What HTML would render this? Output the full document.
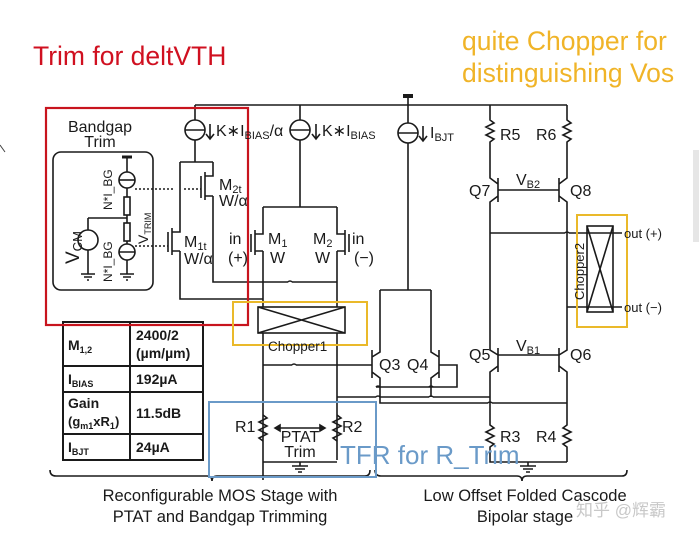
<!DOCTYPE html>
<html><head><meta charset="utf-8"><style>
html,body{margin:0;padding:0;background:#fff}
svg{display:block}
text{font-family:"Liberation Sans","Noto Sans CJK SC",sans-serif}
</style></head><body>
<svg width="699" height="536" viewBox="0 0 699 536" xmlns="http://www.w3.org/2000/svg">
<rect width="699" height="536" fill="#fff"/>
<rect x="693" y="150" width="6" height="92" fill="#e6e6e6"/>
<path d="M0 145 L5 152" stroke="#444" stroke-width="1"/>
<text x="33" y="65" font-size="26.5" fill="#d01020">Trim for deltVTH</text>
<text x="462" y="50" font-size="26.5" fill="#f0b428">quite Chopper for</text>
<text x="462" y="82" font-size="26.5" fill="#f0b428">distinguishing Vos</text>

<g stroke="#1a1a1a" stroke-width="1.6" fill="none">
<path d="M195 105 H567"/>
<path d="M403 96 H413" stroke-width="4"/>
<path d="M408 96 V105"/>
<path d="M195 105 V120 M195 140 V162 M180 162 H213"/>
<circle cx="195" cy="130" r="10"/><path d="M185 130 H205"/>
<path d="M300 105 V120 M300 140 V207 M263 207 H337"/>
<circle cx="300" cy="130" r="10"/><path d="M290 130 H310"/>
<path d="M408 105 V123 M408 143 V290 M380 290 H431"/>
<circle cx="408" cy="133" r="10"/><path d="M398 133 H418"/>
<path d="M213 162 V176 H205 M205 172 V200 M201 176 V198 M213 196 H205 M213 196 V282 H288 M292 282 H337"/>
<path d="M288 282 A2.5 2.5 0 0 1 292 282"/>
<path d="M180 162 V232 H172 M172 228 V255 M168 232 V252 M180 251 H172 M180 251 V299 H263"/>
<path d="M263 207 V234 H255 M255 230 V255 M251 234 V252 M263 251 H255 M263 251 V480"/>
<path d="M337 207 V234 H345 M345 230 V255 M349 234 V252 M337 251 H345 M337 251 V460"/>
<path d="M263 415 l4 3 l-8 4 l8 4 l-8 4 l8 4 l-8 4 l4 3"/>
<path d="M337 415 l4 3 l-8 4 l8 4 l-8 4 l8 4 l-8 4 l4 3"/>
<path d="M263 462 H337 M300 462 V466 M292 466 H308 M295 469 H305 M298 472 H302"/>
<path d="M275 428 H325"/>
<rect x="258" y="307" width="87" height="26" fill="#fff"/>
<path d="M258 307 L345 333 M258 333 L345 307"/>
<path d="M263 365 H292 M296 365 H368"/>
<path d="M292 365 A2.5 2.5 0 0 1 296 365"/>
<path d="M337 397 H376 M380 397 H429 M433 397 H490"/>
<path d="M380 290 V352 L372 357 M372 350 V378 M368 365 H372 M372 372 L380 378 V403 H488 M492 403 H567"/>
<path d="M431 290 V352 L439 357 M439 350 V378 M439 365 H457 V387 H376 M380 387 H429 M433 387 H431 M439 372 L431 378 V397"/>
<path d="M376 387 A2.5 2.5 0 0 1 380 387 M429 387 A2.5 2.5 0 0 1 433 387 M376 397 A2.5 2.5 0 0 1 380 397 M429 397 A2.5 2.5 0 0 1 433 397 M488 403 A2.5 2.5 0 0 1 492 403"/>
<path d="M490 105 V120 l4 3 l-8 4 l8 4 l-8 4 l8 4 l-4 3 V178 L498 184 M498 178 V202 M498 190 H559 M559 178 V202 M498 196 L490 202 V350 L498 355 M498 348 V372 M498 355 H559 M559 348 V372 M498 366 L490 372 V425 l4 3 l-8 4 l8 4 l-8 4 l8 4 l-4 3 V462 H567"/>
<path d="M567 105 V120 l4 3 l-8 4 l8 4 l-8 4 l8 4 l-4 3 V178 L559 184 M559 196 L567 202 V350 L559 355 M559 366 L567 372 V425 l-4 3 l8 4 l-8 4 l8 4 l-8 4 l4 3 V462"/>
<path d="M528 462 V466 M520 466 H536 M523 469 H533 M526 472 H530"/>
<path d="M490 233 H565 M569 233 H622 M567 307 H622"/>
<path d="M565 233 A2.5 2.5 0 0 1 569 233"/>
<rect x="587" y="226" width="26" height="86" fill="#fff"/>
<path d="M587 226 L613 312 M613 226 L587 312 M587 233 H613 M587 307 H613"/>
<!-- bandgap trim inner -->
<rect x="53" y="152" width="100" height="138" rx="8"/>
<path d="M122 157 H132" stroke-width="3"/>
<path d="M127 157 V172"/>
<circle cx="127" cy="180" r="8"/><path d="M119 180 H135"/>
<path d="M127 188 V197"/><rect x="124" y="197" width="6" height="18"/>
<path d="M127 215 V223 M88 218 H127 M88 218 V230 M88 250 V274"/>
<circle cx="88" cy="240" r="10"/>
<rect x="124" y="223" width="6" height="18"/><path d="M127 241 V244"/>
<circle cx="127" cy="252" r="8"/><path d="M119 252 H135 M127 260 V274"/>
<path d="M81 274 H95 M84 277 H92 M87 280 H89 M120 274 H134 M123 277 H131 M126 280 H128"/>
<path d="M135 189 H175 M184 189 H201 M135 246 H168" stroke-dasharray="2,2"/>
<!-- table -->
<rect x="63" y="322" width="140" height="138" stroke-width="2"/>
<path d="M130 322 V460 M63 366 H203 M63 392 H203 M63 434 H203" stroke-width="2"/>
<path d="M50 470 Q50 476 56 476 H207 Q212 476 212 481 Q212 476 217 476 H365 Q370 476 370 470"/>
<path d="M375 470 Q375 476 381 476 H517 Q522 476 522 481 Q522 476 527 476 H622 Q627 476 627 470"/>
</g>
<g stroke="#1a1a1a" stroke-width="1.6">
<path d="M210 124 V139 M206 134 L210 139 L214 134" fill="none"/>
<path d="M316 124 V139 M312 134 L316 139 L320 134" fill="none"/>
<path d="M423 126 V141 M419 136 L423 141 L427 136" fill="none"/>
<path d="M275 428 l5 -3 v6 z M325 428 l-5 -3 v6 z" fill="#1a1a1a"/>
</g>
<rect x="46" y="108" width="202" height="217" fill="none" stroke="#c8141e" stroke-width="2.2"/>
<rect x="233" y="302" width="134" height="43" fill="none" stroke="#eab92a" stroke-width="2"/>
<rect x="577" y="215" width="50" height="112" fill="none" stroke="#eab92a" stroke-width="2"/>
<rect x="209" y="402" width="167" height="75" fill="none" stroke="#6a9ac8" stroke-width="2"/>

<g fill="#1a1a1a" font-size="16">
<text x="216" y="136">K∗I<tspan font-size="11" dy="3">BIAS</tspan><tspan dy="-3">/α</tspan></text>
<text x="322" y="136">K∗I<tspan font-size="11" dy="3">BIAS</tspan></text>
<text x="430" y="138">I<tspan font-size="11" dy="3">BJT</tspan></text>
<text x="100" y="132" text-anchor="middle">Bandgap</text>
<text x="100" y="147" text-anchor="middle">Trim</text>
<text x="219" y="190">M<tspan font-size="11" dy="3">2t</tspan></text>
<text x="219" y="206">W/α</text>
<text x="184" y="247">M<tspan font-size="11" dy="3">1t</tspan></text>
<text x="184" y="264">W/α</text>
<text x="229" y="244">in</text>
<text x="228" y="263">(+)</text>
<text x="268" y="244">M<tspan font-size="11" dy="3">1</tspan></text>
<text x="270" y="263">W</text>
<text x="313" y="244">M<tspan font-size="11" dy="3">2</tspan></text>
<text x="315" y="263">W</text>
<text x="352" y="244">in</text>
<text x="354" y="263">(−)</text>
<text transform="translate(112,210) rotate(-90)" font-size="12">N*I_BG</text>
<text transform="translate(112,282) rotate(-90)" font-size="12">N*I_BG</text>
<text transform="translate(148,244) rotate(-90)" font-size="14">V<tspan font-size="9" dy="3">TRIM</tspan></text>
<text transform="translate(79,264) rotate(-90)" font-size="19">V<tspan font-size="13" dy="3">CM</tspan></text>
<text x="268" y="351" font-size="13.5">Chopper1</text>
<text x="235" y="432">R1</text>
<text x="342" y="432">R2</text>
<text x="300" y="442" text-anchor="middle">PTAT</text>
<text x="300" y="457" text-anchor="middle">Trim</text>
<text x="379" y="370">Q3</text>
<text x="407" y="370">Q4</text>
<text x="500" y="140">R5</text>
<text x="536" y="140">R6</text>
<text x="469" y="196">Q7</text>
<text x="570" y="196">Q8</text>
<text x="516" y="185">V<tspan font-size="11" dy="3">B2</tspan></text>
<text x="469" y="360">Q5</text>
<text x="570" y="360">Q6</text>
<text x="516" y="351">V<tspan font-size="11" dy="3">B1</tspan></text>
<text x="500" y="442">R3</text>
<text x="536" y="442">R4</text>
<text x="624" y="238" font-size="13">out (+)</text>
<text x="624" y="312" font-size="13">out (−)</text>
<text transform="translate(584,300) rotate(-90)" font-size="13">Chopper2</text>
<text x="68" y="350" font-size="14" font-weight="bold">M<tspan font-size="9" dy="3">1,2</tspan></text>
<text x="136" y="340" font-size="14" font-weight="bold">2400/2</text>
<text x="136" y="358" font-size="14" font-weight="bold">(µm/µm)</text>
<text x="68" y="384" font-size="14" font-weight="bold">I<tspan font-size="9" dy="3">BIAS</tspan></text>
<text x="136" y="384" font-size="14" font-weight="bold">192µA</text>
<text x="68" y="408" font-size="14" font-weight="bold">Gain</text>
<text x="68" y="426" font-size="13" font-weight="bold">(g<tspan font-size="9" dy="3">m1</tspan><tspan dy="-3">xR</tspan><tspan font-size="9" dy="3">1</tspan><tspan dy="-3">)</tspan></text>
<text x="136" y="418" font-size="14" font-weight="bold">11.5dB</text>
<text x="68" y="452" font-size="14" font-weight="bold">I<tspan font-size="9" dy="3">BJT</tspan></text>
<text x="136" y="452" font-size="14" font-weight="bold">24µA</text>
<text x="220" y="501" text-anchor="middle" font-size="16.5">Reconfigurable MOS Stage with</text>
<text x="220" y="522" text-anchor="middle" font-size="16.5">PTAT and Bandgap Trimming</text>
<text x="525" y="501" text-anchor="middle" font-size="16.5">Low Offset Folded Cascode</text>
<text x="525" y="522" text-anchor="middle" font-size="16.5">Bipolar stage</text>
</g>
<text x="340" y="464" font-size="26" fill="#6a9ac8">TFR for R_Trim</text>
<text x="576" y="516" font-size="17" fill="#c8c8c8">知乎 @辉霸</text>
</svg>
</body></html>
